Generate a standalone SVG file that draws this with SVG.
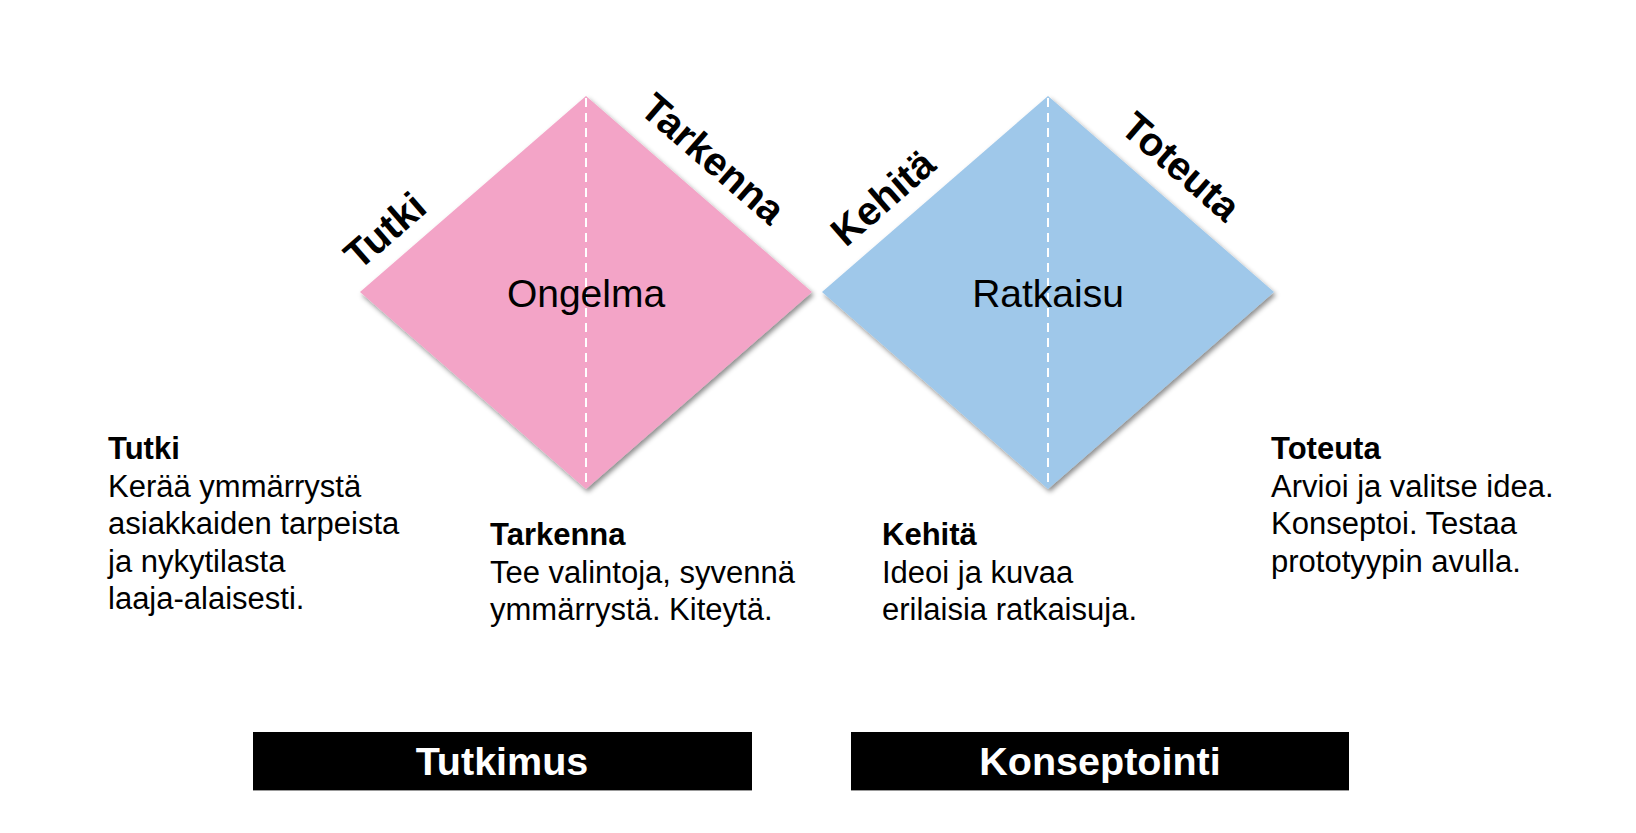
<svg xmlns="http://www.w3.org/2000/svg" width="1636" height="833" viewBox="0 0 1636 833">
<defs>
<filter id="sh" x="-10%" y="-10%" width="125%" height="125%">
<feDropShadow dx="2" dy="3" stdDeviation="2.5" flood-color="#000" flood-opacity="0.45"/>
</filter>
<style>
.t{font-family:"Liberation Sans",Arial,sans-serif;fill:#000}
.edge{font-size:40px;font-weight:bold;text-anchor:middle}
.ctr{font-size:39px;text-anchor:middle}
.body{font-size:31px}
.b{font-weight:bold}
.dash{stroke:#fff;stroke-width:2;stroke-dasharray:9 6;fill:none}
.bar{fill:#000}
.bartxt{font-family:"Liberation Sans",Arial,sans-serif;font-size:39.5px;font-weight:bold;fill:#fff;text-anchor:middle}
</style>
</defs>
<rect width="1636" height="833" fill="#fff"/>
<g id="ongelma">
<polygon points="586,96 812,292 586,489 360,292" fill="#F3A4C7" filter="url(#sh)"/>
<line class="dash" x1="586" y1="98" x2="586" y2="487"/>
<text class="t ctr" x="586" y="307">Ongelma</text>
</g>
<g id="ratkaisu">
<polygon points="1048,96 1274,292 1048,489 822,292" fill="#9FC8EA" filter="url(#sh)"/>
<line class="dash" x1="1048" y1="98" x2="1048" y2="487"/>
<text class="t ctr" x="1048" y="307">Ratkaisu</text>
</g>
<g id="edge-labels">
<text class="t edge" transform="translate(394,241) rotate(-41)">Tutki</text>
<text class="t edge" transform="translate(704,169) rotate(41)">Tarkenna</text>
<text class="t edge" transform="translate(892,208) rotate(-41)">Kehitä</text>
<text class="t edge" transform="translate(1172,177) rotate(41)">Toteuta</text>
</g>
<g id="desc-tutki">
<text class="t body" x="108" y="459"><tspan class="b">Tutki</tspan><tspan x="108" dy="37.6">Kerää ymmärrystä</tspan><tspan x="108" dy="37.6">asiakkaiden tarpeista</tspan><tspan x="108" dy="37.6">ja nykytilasta</tspan><tspan x="108" dy="37.6">laaja-alaisesti.</tspan></text>
</g>
<g id="desc-tarkenna">
<text class="t body" x="490" y="545"><tspan class="b">Tarkenna</tspan><tspan x="490" dy="37.6">Tee valintoja, syvennä</tspan><tspan x="490" dy="37.6">ymmärrystä. Kiteytä.</tspan></text>
</g>
<g id="desc-kehita">
<text class="t body" x="882" y="545"><tspan class="b">Kehitä</tspan><tspan x="882" dy="37.6">Ideoi ja kuvaa</tspan><tspan x="882" dy="37.6">erilaisia ratkaisuja.</tspan></text>
</g>
<g id="desc-toteuta">
<text class="t body" x="1271" y="459"><tspan class="b">Toteuta</tspan><tspan x="1271" dy="37.6">Arvioi ja valitse idea.</tspan><tspan x="1271" dy="37.6">Konseptoi. Testaa</tspan><tspan x="1271" dy="37.6">prototyypin avulla.</tspan></text>
</g>
<g id="tutkimus">
<rect class="bar" x="253" y="732" width="499" height="58"/>
<line x1="253" y1="790.5" x2="752" y2="790.5" stroke="#999" stroke-width="1"/>
<text class="bartxt" x="502" y="775">Tutkimus</text>
</g>
<g id="konseptointi">
<rect class="bar" x="851" y="732" width="498" height="58"/>
<line x1="851" y1="790.5" x2="1349" y2="790.5" stroke="#999" stroke-width="1"/>
<text class="bartxt" x="1100" y="775">Konseptointi</text>
</g>
<g id="connectors"></g>
</svg>
